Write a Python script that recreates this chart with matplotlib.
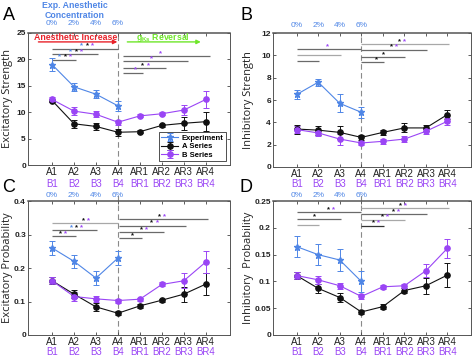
import numpy as np
import matplotlib

matplotlib.use("Agg")
import matplotlib.pyplot as plt

plt.rcParams["font.family"] = ["Liberation Sans", "DejaVu Sans"]
plt.rcParams["mathtext.fontset"] = "custom"
plt.rcParams["mathtext.rm"] = "Liberation Sans"
plt.rcParams["mathtext.it"] = "Liberation Sans:bold"

BLUE = "#4f86e6"
PURPLE = "#9a45f5"
BLACK = "#111111"
DARKGRAY = "#6a6a6a"
LIGHTGRAY = "#a8a8a8"

# ---------------------------------------------------------------- data
stages = ["A1", "A2", "A3", "A4", "AR1", "AR2", "AR3", "AR4"]
b_stages = ["B1", "B2", "B3", "B4", "BR1", "BR2", "BR3", "BR4"]
concs = ["0%", "2%", "4%", "6%"]

exc_str_exp = [19.0, 14.8, 13.4, 11.2]
exc_str_exp_err = [1.2, 0.8, 0.8, 1.0]
exc_str_a = [12.2, 7.8, 7.3, 6.2, 6.3, 7.5, 7.9, 8.2]
exc_str_a_err = [0.3, 0.8, 0.6, 0.7, 0.3, 0.3, 1.2, 1.8]
exc_str_b = [12.4, 10.2, 9.6, 8.1, 9.3, 9.7, 10.4, 12.4]
exc_str_b_err = [0.4, 0.8, 0.6, 0.5, 0.3, 0.3, 1.0, 1.6]

inh_str_exp = [6.5, 7.6, 5.7, 4.9]
inh_str_exp_err = [0.4, 0.3, 0.8, 0.5]
inh_str_a = [3.4, 3.3, 3.1, 2.65, 3.1, 3.5, 3.5, 4.7]
inh_str_a_err = [0.4, 0.4, 0.6, 0.2, 0.2, 0.4, 0.3, 0.4]
inh_str_b = [3.35, 3.05, 2.5, 2.15, 2.3, 2.5, 3.2, 4.1]
inh_str_b_err = [0.3, 0.3, 0.5, 0.15, 0.2, 0.3, 0.2, 0.3]

exc_prob_exp = [0.26, 0.22, 0.17, 0.23]
exc_prob_exp_err = [0.02, 0.02, 0.02, 0.02]
exc_prob_a = [0.162, 0.122, 0.084, 0.065, 0.087, 0.104, 0.122, 0.152]
exc_prob_a_err = [0.01, 0.012, 0.012, 0.006, 0.005, 0.005, 0.022, 0.033]
exc_prob_b = [0.162, 0.115, 0.108, 0.103, 0.107, 0.151, 0.162, 0.218]
exc_prob_b_err = [0.01, 0.012, 0.01, 0.006, 0.005, 0.006, 0.022, 0.033]

inh_prob_exp = [0.165, 0.15, 0.14, 0.10]
inh_prob_exp_err = [0.02, 0.02, 0.02, 0.02]
inh_prob_a = [0.111, 0.087, 0.07, 0.043, 0.053, 0.083, 0.092, 0.112]
inh_prob_a_err = [0.007, 0.008, 0.008, 0.004, 0.004, 0.004, 0.015, 0.022]
inh_prob_b = [0.111, 0.103, 0.092, 0.072, 0.09, 0.092, 0.12, 0.162]
inh_prob_b_err = [0.006, 0.007, 0.006, 0.005, 0.004, 0.004, 0.012, 0.018]

# significance bars: (x start, x end, y, line shade, star centre, star colours)
sig_a = [
    (1.0, 2.1, 19.9, "d", 1.59, "bkp"),
    (1.0, 3.1, 21.0, "d", 2.09, "bkp"),
    (1.0, 4.0, 22.0, "d", 2.59, "bkp"),
    (4.23, 5.15, 17.5, "d", 4.82, "p"),
    (4.23, 6.2, 18.3, "d", 5.25, "kp"),
    (4.23, 7.2, 19.6, "d", 5.55, "p"),
    (4.23, 8.2, 20.6, "d", 5.95, "p"),
]
sig_b = [
    (1.0, 2.05, 9.5, "d", None, ""),
    (1.0, 3.05, 10.0, "l", None, ""),
    (1.0, 4.0, 10.57, "d", 2.45, "p"),
    (4.0, 5.05, 9.4, "d", 4.71, "k"),
    (4.0, 6.05, 9.85, "d", 5.03, "k"),
    (4.0, 7.05, 10.5, "d", 5.5, "kp"),
    (4.0, 8.05, 11.0, "l", 5.9, "kp"),
]
sig_c = [
    (1.0, 2.1, 0.296, "d", 1.5, "kp"),
    (1.0, 3.05, 0.313, "d", 2.11, "bkp"),
    (1.0, 4.0, 0.334, "l", 2.56, "kp"),
    (4.05, 5.1, 0.29, "d", 4.64, "k"),
    (4.05, 6.1, 0.307, "d", 5.2, "kp"),
    (4.05, 7.1, 0.327, "d", 5.66, "kp"),
    (4.05, 8.1, 0.346, "d", 6.02, "kp"),
]
sig_d = [
    (1.0, 2.05, 0.206, "l", None, ""),
    (1.0, 3.05, 0.216, "d", 1.81, "k"),
    (1.0, 4.0, 0.229, "d", 2.6, "kp"),
    (4.0, 5.05, 0.204, "k", 4.68, "kp"),
    (4.0, 6.05, 0.215, "l", 5.09, "kp"),
    (4.0, 7.05, 0.226, "d", 5.6, "kp"),
    (4.0, 8.05, 0.237, "l", 5.93, "kp"),
]

SHADES = {"d": DARKGRAY, "l": LIGHTGRAY, "k": "#333333"}
STAR_COLORS = {"b": BLUE, "k": BLACK, "p": PURPLE}

x = np.arange(1, 9)
xe = np.arange(1, 5)

fig = plt.figure(figsize=(4.74, 3.56), dpi=100)
PT = 0.72  # points per pixel at dpi 100


def style_axes(ax, ylim, yticks):
    ax.set_xlim(-0.1, 9.1)
    ax.set_ylim(*ylim)
    ax.set_yticks(yticks)
    ax.set_yticklabels([f"{v:g}" for v in yticks], fontsize=6, fontweight="bold")
    ax.set_xticks(x)
    ax.set_xticklabels(stages, fontsize=7, color="#222222")
    ax.tick_params(direction="in", top=True, right=True, length=2.5, width=0.6,
                   pad=1.5, colors="#444444", labelcolor="#222222")
    for s in ax.spines.values():
        s.set_color("#555555")
        s.set_linewidth(0.7)
    ax.spines["top"].set_linewidth(1.1)


def draw_series(ax, exp, exp_err, a, a_err, b, b_err):
    ax.axvline(4, color="#8a8a8a", lw=0.8, ls=(0, (5, 3)), zorder=1)
    ax.errorbar(xe, exp, yerr=exp_err, color=BLUE, marker="*", ms=5, lw=0.8,
                elinewidth=0.7, capsize=2, capthick=0.7, label="Experiment", zorder=4)
    ax.errorbar(x, a, yerr=a_err, color=BLACK, marker="o", ms=3.8, lw=0.8,
                elinewidth=0.7, capsize=2, capthick=0.7, label="A Series", zorder=3)
    ax.errorbar(x, b, yerr=b_err, color=PURPLE, marker="o", ms=3.8, lw=0.8,
                elinewidth=0.7, capsize=2, capthick=0.7, label="B Series", zorder=3)


def draw_sig(ax, bars):
    for x0, x1, yv, shade, xc, cols in bars:
        ax.plot([x0, x1], [yv, yv], color=SHADES[shade], lw=0.9, zorder=2,
                solid_capstyle="butt")
        if xc is None:
            continue
        n = len(cols)
        for i, c in enumerate(cols):
            xs = xc + (i - (n - 1) / 2) * 0.24
            ax.annotate("*", (xs, yv), xytext=(0, -0.6), textcoords="offset points",
                        ha="center", va="bottom", fontsize=5.5,
                        color=STAR_COLORS[c], fontweight="bold")


def tick_rows(ax, top_px, b_px):
    for i, c in enumerate(concs):
        ax.annotate(c, (xe[i], 1), xycoords=("data", "axes fraction"),
                    xytext=(0, top_px * PT), textcoords="offset points",
                    ha="center", va="center", fontsize=6, color=BLUE)
    for i, lab in enumerate(b_stages):
        ax.annotate(lab, (x[i], 0), xycoords=("data", "axes fraction"),
                    xytext=(0, -b_px * PT), textcoords="offset points",
                    ha="center", va="center", fontsize=7, color=PURPLE)


def ylabel(ax, text, xfrac):
    ax.set_ylabel(text, fontsize=8, family=["Open Sans", "DejaVu Sans"],
                  color="#222222")
    ax.yaxis.set_label_coords(xfrac, 0.5)


# ---------------- panel A
axA = fig.add_axes([0.059, 0.5365, 0.426, 0.371])
draw_series(axA, exc_str_exp, exc_str_exp_err, exc_str_a, exc_str_a_err,
            exc_str_b, exc_str_b_err)
draw_sig(axA, sig_a)
style_axes(axA, (0, 25), [0, 5, 10, 15, 20, 25])
ylabel(axA, "Excitatory Strength", -0.075)
tick_rows(axA, 9, 19)
axA.annotate("", xy=(4.1, 23.3), xytext=(0.25, 23.3),
             arrowprops=dict(arrowstyle="-|>", color="#e8222a", lw=1.0,
                             mutation_scale=6), annotation_clip=False)
axA.text(2.05, 24.2, "Anesthetic Increase", color="#e8222a", fontsize=6.3,
         fontweight="bold", ha="center", va="center")
axA.annotate("", xy=(7.9, 23.3), xytext=(4.3, 23.3),
             arrowprops=dict(arrowstyle="-|>", color="#6fe62a", lw=1.0,
                             mutation_scale=6))
axA.text(6.05, 24.1, r"$g_{Ks}$ Reversal", color="#6fe62a", fontsize=6.3,
         fontweight="bold", ha="center", va="center")
leg = axA.legend(loc="lower right", frameon=True, fancybox=False,
                 edgecolor="#333333", framealpha=1, borderpad=0.3,
                 labelspacing=0.15, handlelength=2.2, handletextpad=0.5,
                 borderaxespad=0.5, prop={"weight": "bold", "size": 5.5})
leg.get_frame().set_linewidth(0.6)

# ---------------- panel B
axB = fig.add_axes([0.576, 0.531, 0.418, 0.376])
draw_series(axB, inh_str_exp, inh_str_exp_err, inh_str_a, inh_str_a_err,
            inh_str_b, inh_str_b_err)
draw_sig(axB, sig_b)
style_axes(axB, (0, 12), [0, 2, 4, 6, 8, 10, 12])
ylabel(axB, "Inhibitory Strength", -0.095)
tick_rows(axB, 8, 17)

# ---------------- panel C
axC = fig.add_axes([0.059, 0.059, 0.426, 0.376])
draw_series(axC, exc_prob_exp, exc_prob_exp_err, exc_prob_a, exc_prob_a_err,
            exc_prob_b, exc_prob_b_err)
axC.plot([4, 4], [0.4, 0.418], color="#8a8a8a", lw=0.8, ls=(0, (5, 3)), clip_on=False)
draw_sig(axC, sig_c)
style_axes(axC, (0, 0.4), [0, 0.1, 0.2, 0.3, 0.4])
ylabel(axC, "Excitatory Probability", -0.075)
tick_rows(axC, 6, 17)

# ---------------- panel D
axD = fig.add_axes([0.576, 0.059, 0.418, 0.376])
draw_series(axD, inh_prob_exp, inh_prob_exp_err, inh_prob_a, inh_prob_a_err,
            inh_prob_b, inh_prob_b_err)
axD.plot([4, 4], [0.25, 0.261], color="#8a8a8a", lw=0.8, ls=(0, (5, 3)), clip_on=False)
draw_sig(axD, sig_d)
style_axes(axD, (0, 0.25), [0, 0.05, 0.1, 0.15, 0.2, 0.25])
ylabel(axD, "Inhibitory  Probability", -0.095)
tick_rows(axD, 6, 17)

# ---------------- panel letters and header
for lab, px, py in [("A", 9, 15), ("B", 246, 15), ("C", 9, 188), ("D", 246, 188)]:
    fig.text(px / 474, 1 - py / 356, lab, fontsize=13, ha="center", va="center")
fig.text(75 / 474, 1 - 6 / 356, "Exp. Anesthetic", fontsize=6.3, fontweight="bold",
         color=BLUE, ha="center", va="center")
fig.text(75 / 474, 1 - 16 / 356, "Concentration", fontsize=6.3, fontweight="bold",
         color=BLUE, ha="center", va="center")

fig.savefig("out.png", dpi=100, facecolor="white")
